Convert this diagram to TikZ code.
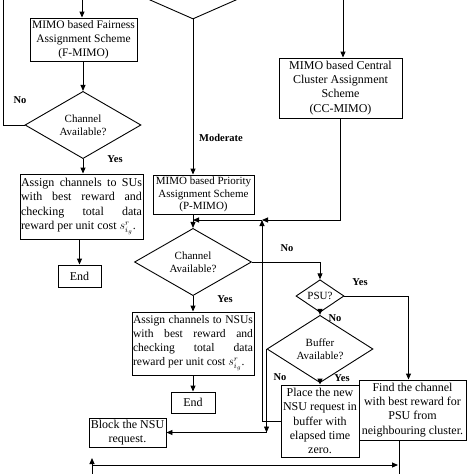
\documentclass[tikz,border=0pt]{standalone}
\usepackage{fontspec}
\setmainfont{Liberation Serif}
\usetikzlibrary{shapes.geometric,arrows.meta}

\begin{document}
\begin{tikzpicture}[x=1pt,y=-1pt,line width=0.9pt,
    box/.style={draw,rectangle,inner sep=1pt,align=center,font=\fontsize{12}{14.2}\selectfont},
    dec/.style={draw,diamond,inner sep=0pt,align=center,font=\fontsize{11}{12.6}\selectfont},
    lab/.style={font=\fontsize{10.5}{12}\selectfont\bfseries},
    arr/.style={-{Triangle[length=6pt,width=5pt]}}]
	  \useasboundingbox (0,0) rectangle (474,474);
	  \clip (0,0) rectangle (474,474);

	  \node[dec,minimum width=200pt,minimum height=88pt] (0) at (193,-25) {};
	  \node[box,minimum width=107pt,minimum height=43pt,font=\fontsize{11.5}{14}\selectfont] (1) at (83.5,39.5) {MIMO based Fairness\\Assignment Scheme\\(F-MIMO)};
	  \node[dec,minimum width=116pt,minimum height=62pt] (2) at (83,125) {Channel\\Available?};
	  \node[box,align=left,minimum width=123pt,minimum height=65pt] (3) at (81.5,206.5) {\makebox[121pt][s]{Assign channels to SUs}\\\makebox[121pt][s]{with best reward and}\\\makebox[121pt][s]{checking total data}\\reward per unit cost $s^r_{i_g}$.};
	  \node[box,minimum width=43pt,minimum height=22pt] (4) at (79.5,276) {End};
	  \node[box,minimum width=101pt,minimum height=39pt,font=\fontsize{11}{12.6}\selectfont] (5) at (203.5,194.5) {MIMO based Priority\\Assignment Scheme\\(P-MIMO)};
	  \node[dec,minimum width=117pt,minimum height=63pt] (6) at (193,262) {Channel\\Available?};
	  \node[box,align=left,minimum width=122pt,minimum height=63pt,font=\fontsize{11.6}{14}\selectfont] (7) at (193,343.5) {\makebox[120pt][s]{Assign channels to NSUs}\\\makebox[120pt][s]{with best reward and}\\\makebox[120pt][s]{checking total data}\\reward per unit cost $s^r_{i_g}$.};
	  \node[box,minimum width=44pt,minimum height=21pt] (8) at (193,402.5) {End};
	  \node[box,minimum width=123pt,minimum height=60pt] (9) at (340.5,88) {MIMO based Central\\Cluster Assignment\\Scheme\\(CC-MIMO)};
	  \node[dec,minimum width=48pt,minimum height=31pt] (10) at (320,296) {PSU?};
	  \node[dec,minimum width=106pt,minimum height=56pt] (11) at (320,349) {Buffer\\Available?};
	  \node[box,minimum width=78pt,minimum height=72pt] (12) at (320,421) {Place the new\\NSU request in\\buffer with\\elapsed time\\zero.};
	  \node[box,minimum width=107pt,minimum height=60pt] (13) at (412.5,410) {Find the channel\\with best reward for\\PSU from\\neighbouring cluster.};
	  \node[box,minimum width=77pt,minimum height=29pt] (14) at (127.5,432.5) {Block the NSU\\request.};

	  \node[lab] (l1) at (20,100) {No};
	  \node[lab] (l2) at (115,159) {Yes};
	  \node[lab] (l3) at (221,138) {Moderate};
	  \node[lab] (l4) at (287,248) {No};
	  \node[lab] (l5) at (225,299) {Yes};
	  \node[lab] (l6) at (360,282) {Yes};
	  \node[lab] (l7) at (335,318) {No};
	  \node[lab] (l8) at (280,377) {No};
	  \node[lab] (l9) at (342,378) {Yes};

	  \coordinate (a) at (3,0);
	  \coordinate (b) at (82,0);
	  \coordinate (c) at (343,0);
	  \coordinate (j) at (262,220);
	  \coordinate (k) at (193,220);
	  \coordinate (m) at (92,474);
	  \coordinate (m2) at (92,458);
	  \coordinate (n) at (92,465);
	  \coordinate (p) at (398,465);
	  \coordinate (q) at (399,474);

	  \draw (a) |- (2.west);
	  \draw[arr] (b) -- (b |- 1.north);
	  \draw[arr] (c) -- (c |- 9.north);
	  \draw[arr] (2.north |- 1.south) -- (2.north);
	  \draw[arr] (2.south) -- (2.south |- 3.north);
	  \draw[arr] (4.north |- 3.south) -- (4.north);
	  \draw[arr] (0.south) -- (0.south |- 5.north);
	  \draw (6.north |- 5.south) -- (k);
	  \draw[arr] (k) -- (6.north);
	  \draw[arr] (9.south) |- (j);
	  \draw[arr] (j) -- (k);
	  \draw[arr] (12.west) -| (j);
	  \draw[arr] (6.east) -| (10.north);
	  \draw[arr] (6.south) -- (7.north);
	  \draw[arr] (7.south) -- (7.south |- 8.north);
	  \draw[arr] (10.east) -| ([xshift=-4pt]13.north);
	  \draw[arr] (10.south) -- (11.north);
	  \draw[arr] (11.south) -- (12.north);
	  \draw[arr] (11.west) -- (11.west |- 14.east);
	  \draw[arr] (11.west |- 14.east) -- (14.east);
	  \draw (q |- 13.south) -- (q);
	  \draw[arr] (m) -- (m2);
	  \draw[arr] (n) -- (p);
	\end{tikzpicture}
\end{document}
